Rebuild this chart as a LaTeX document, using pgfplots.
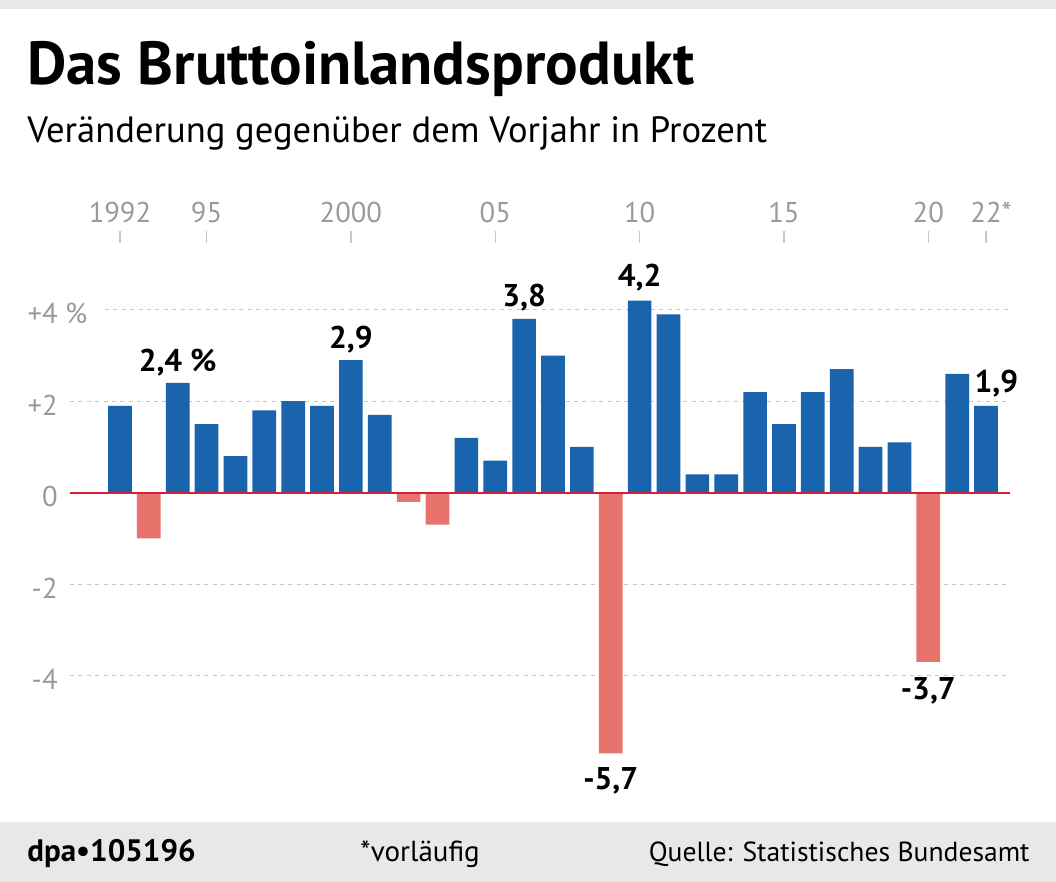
\documentclass[border=0pt]{standalone}
\usepackage{fontspec}
\setmainfont{PT Sans}
\usepackage{pgfplots}
\usepackage{pgfplotstable}
\pgfplotsset{compat=1.18}

\definecolor{barblue}{HTML}{1A63AD}
\definecolor{barred}{HTML}{E8736C}
\definecolor{zeroline}{HTML}{D0203A}
\definecolor{tickgray}{HTML}{999999}
\definecolor{gridgray}{HTML}{C8C8C8}
\definecolor{bandgray}{HTML}{E8E8E8}

% GDP growth, change against previous year in percent
\pgfplotstableread{
year value
1992 1.9
1994 2.4
1995 1.5
1996 0.8
1997 1.8
1998 2.0
1999 1.9
2000 2.9
2001 1.7
2004 1.2
2005 0.7
2006 3.8
2007 3.0
2008 1.0
2010 4.2
2011 3.9
2012 0.4
2013 0.4
2014 2.2
2015 1.5
2016 2.2
2017 2.7
2018 1.0
2019 1.1
2021 2.6
2022 1.9
}\growth

\pgfplotstableread{
year value
1993 -1.0
2002 -0.2
2003 -0.7
2009 -5.7
2020 -3.7
}\decline

\begin{document}
\begin{tikzpicture}[x=0.5pt,y=0.5pt]
\useasboundingbox (0,0) rectangle (1056,882);
% top strip and footer band
\fill[bandgray] (0,873) rectangle (1056,882);
\fill[bandgray] (0,0) rectangle (1056,60);

\node[anchor=base west, inner sep=0pt, font=\bfseries\fontsize{30.4}{34}\selectfont] at (27,797) {Das Bruttoinlandsprodukt};
\node[anchor=base west, inner sep=0pt, font=\fontsize{18.3}{21}\selectfont] at (27,739) {Veränderung gegenüber dem Vorjahr in Prozent};

\node[anchor=base west, inner sep=0pt, font=\bfseries\fontsize{15.5}{18}\selectfont] at (27,20) {dpa\textbullet105196};
\node[anchor=base west, inner sep=0pt, font=\fontsize{14.5}{17}\selectfont] at (360,20) {*vorläufig};
\node[anchor=base east, inner sep=0pt, font=\fontsize{13.8}{17}\selectfont] at (1030,20) {Quelle: Statistisches Bundesamt};

\begin{axis}[
  at={(35pt,62pt)}, anchor=south west,
  scale only axis, width=470pt, height=257.5pt,
  xmin=1990.27, xmax=2022.83, ymin=-5.8, ymax=5.46,
  axis line style={draw=none},
  clip=false,
  xtick={1992,1995,2000,2005,2010,2015,2020,2022},
  xticklabels={1992,95,2000,05,10,15,20,22\rlap{*}},
  xtick pos=right, xticklabel pos=right,
  tick align=outside, major tick length=6pt,
  xtick style={gridgray, line width=0.6pt},
  ytick={-4,-2,0,2,4},
  yticklabels={-4,-2,0,+2,{+4\rlap{\ \%}}},
  ytick style={draw=none},
  ticklabel style={font=\fontsize{14.3}{16}\selectfont, text=tickgray},
  xticklabel style={anchor=south, inner sep=0pt, yshift=4pt},
  yticklabel style={anchor=east, inner sep=0pt, yshift=-2pt},
  /pgf/number format/assume math mode=true,
]
% dashed grid lines
\draw[gridgray, line width=0.6pt, dash pattern=on 2pt off 2.2pt] (axis cs:1991.48,4) -- (axis cs:2022.83,4);
\draw[gridgray, line width=0.6pt, dash pattern=on 2pt off 2.2pt] (axis cs:1990.27,2) -- (axis cs:2022.83,2);
\draw[gridgray, line width=0.6pt, dash pattern=on 2pt off 2.2pt] (axis cs:1990.27,-2) -- (axis cs:2022.83,-2);
\draw[gridgray, line width=0.6pt, dash pattern=on 2pt off 2.2pt] (axis cs:1990.27,-4) -- (axis cs:2022.83,-4);

\addplot[ybar, bar width=0.82, bar shift=0pt, fill=barblue, draw=none] table[x=year, y=value] {\growth};
\addplot[ybar, bar width=0.82, bar shift=0pt, fill=barred, draw=none] table[x=year, y=value] {\decline};

% zero line
\draw[zeroline, line width=1pt] (axis cs:1990.27,0) -- (axis cs:2022.83,0);

% value labels
\begin{scope}[every node/.style={inner sep=0pt, font=\bfseries\fontsize{15.7}{18}\selectfont}]
\node[anchor=base, yshift=5.5pt] at (axis cs:1994,2.4) {2,4 \%};
\node[anchor=base, yshift=6pt] at (axis cs:2000,2.9) {2,9};
\node[anchor=base, yshift=6pt] at (axis cs:2006,3.8) {3,8};
\node[anchor=base, yshift=7pt] at (axis cs:2010,4.2) {4,2};
\node[anchor=base west, yshift=6.5pt] at (axis cs:2021.59,1.9) {1,9};
\node[anchor=base, yshift=-18pt] at (axis cs:2009,-5.7) {-5,7};
\node[anchor=base, yshift=-19pt] at (axis cs:2020,-3.7) {-3,7};
\end{scope}
\end{axis}
\end{tikzpicture}
\end{document}
